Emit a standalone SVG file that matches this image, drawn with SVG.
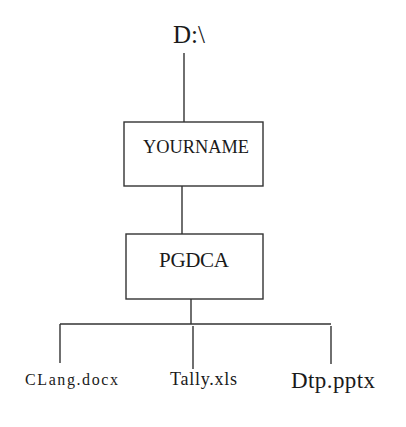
<svg xmlns="http://www.w3.org/2000/svg" width="406" height="427" viewBox="0 0 406 427">
<style>
.box{fill:#fff;stroke:#333;stroke-width:1.4}
.ln{stroke:#333;stroke-width:1.4;fill:none}
text{font-family:"Liberation Serif","Times New Roman",serif;fill:#1a1a1a}
</style>
<rect width="406" height="427" fill="#fff"/>
<g id="connectors">
<line class="ln" x1="184" y1="53" x2="184" y2="122"/>
<line class="ln" x1="182" y1="186" x2="182" y2="240"/>
<line class="ln" x1="191" y1="299" x2="191" y2="324"/>
<line class="ln" x1="60" y1="324" x2="331" y2="324"/>
<line class="ln" x1="60" y1="324" x2="60" y2="363"/>
<line class="ln" x1="193" y1="326" x2="193" y2="369"/>
<line class="ln" x1="331" y1="326" x2="331" y2="364"/>
</g>
<g id="root">
<text x="173" y="43" font-size="25">D:\</text>
</g>
<g id="yourname">
<rect class="box" x="124" y="122" width="139" height="64"/>
<text x="143" y="153" font-size="18" textLength="106" lengthAdjust="spacingAndGlyphs">YOURNAME</text>
</g>
<g id="pgdca">
<rect class="box" x="126" y="234" width="137" height="65"/>
<text x="159" y="267" font-size="21" textLength="70">PGDCA</text>
</g>
<g id="clang">
<text x="25" y="385" font-size="16" textLength="93">CLang.docx</text>
</g>
<g id="tally">
<text x="170" y="385" font-size="18" textLength="67">Tally.xls</text>
</g>
<g id="dtp">
<text x="291" y="388" font-size="23" textLength="84">Dtp.pptx</text>
</g>
</svg>
